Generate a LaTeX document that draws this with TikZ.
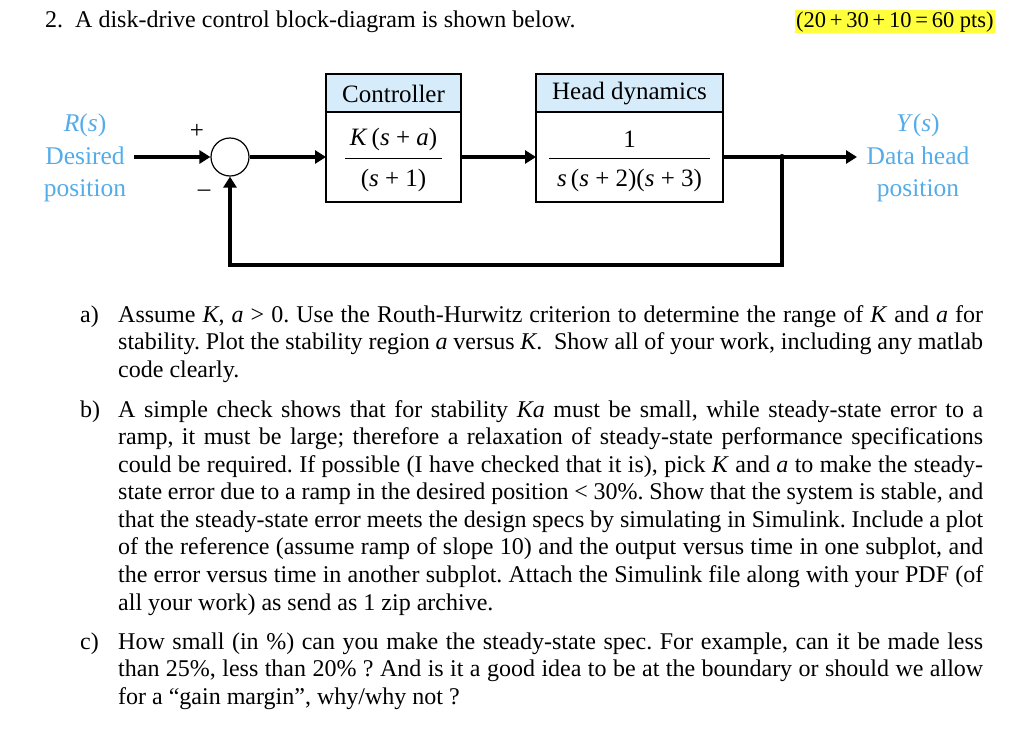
\documentclass[tikz,border=0pt]{standalone}
\usepackage{fontspec}
\setmainfont{Liberation Serif}
\usetikzlibrary{arrows.meta}
\definecolor{lblue}{RGB}{84,172,232}
\definecolor{hdr}{RGB}{214,236,250}
\definecolor{hl}{RGB}{255,255,60}
\frenchspacing
\begin{document}
\begin{tikzpicture}[x=1pt,y=-1pt,
  body/.style={font=\fontsize{24}{27.5}\selectfont,anchor=base west,inner sep=0},
  lab/.style={font=\fontsize{25.5}{32.5}\selectfont,text=lblue,align=center,inner sep=0},
  dtext/.style={font=\fontsize{25}{28}\selectfont,inner sep=0},
  conn/.style={line width=4pt},
  arr/.style={conn,-{Triangle[length=11pt,width=13pt]}},
  box/.style={draw,line width=2.6pt}]
\useasboundingbox (0,0) rectangle (1024,747);
% header
\node[body] (title) at (45,27) {2.\enspace A disk-drive control block-diagram is shown below.};
\node[body,fill=hl,inner sep=1pt,font=\fontsize{22.5}{27}\selectfont] (pts) at (795,27) {(20\,+\,30\,+\,10\,=\,60 pts)};
% blocks
\draw[box,fill=hdr] (326,74) rectangle (461,112);
\draw[box,fill=white] (326,112) rectangle (461,202);
\node[dtext] (ctl) at (393.5,94) {Controller};
\node[dtext] (cn) at (393.5,139) {\textit{K}\,(\textit{s}\ +\ \textit{a})};
\node[dtext] (cd) at (393.5,180) {(\textit{s}\ +\ 1)};
\draw[line width=0.8pt] (345,158) -- (442,158);
\draw[box,fill=hdr] (536,74) rectangle (723,112);
\draw[box,fill=white] (536,112) rectangle (723,202);
\node[dtext] (hd) at (629.5,94) {Head dynamics};
\node[dtext] (hn) at (629.5,139) {1};
\node[dtext] (hdn) at (629.5,180) {\textit{s}\,(\textit{s}\ +\ 2)(\textit{s}\ +\ 3)};
\draw[line width=0.8pt] (549,158) -- (710,158);
\coordinate (cl) at (326,157);
\coordinate (cr) at (461,157);
\coordinate (hl) at (536,157);
\coordinate (hr) at (723,157);
% summing junction
\node[draw,circle,line width=1.2pt,minimum size=38pt,inner sep=0] (sum) at (230,157) {};
\node[dtext] (plus) at (197,131) {+};
\node[dtext] (minus) at (204,193) {\textendash};
% labels
\node[lab] (R) at (85,158) {\textit{R}(\textit{s})\\Desired\\position};
\node[lab] (Y) at (918,158) {\textit{Y}(\textit{s})\\Data head\\position};
\coordinate (in) at (134,157);
\coordinate (br) at (782,157);
\coordinate (out) at (857,157);
\coordinate (fb1) at (782,265);
\coordinate (fb2) at (230,265);
\draw[arr] (in) -- (sum.west);
\draw[arr] (sum.east) -- (cl);
\draw[arr] (cr) -- (hl);
\draw[conn] (hr) -- (br);
\draw[arr] (br) -- (out);
\draw[arr] (br) -- (fb1) -- (fb2) -- (sum.south);
\fill (br) circle (3pt);
% questions
\node[body] (a) at (80,322) {a)};
\node[body] (a1) at (118,322) {\makebox[865pt][s]{Assume \textit{K}, \textit{a} > 0. Use the Routh-Hurwitz criterion to determine the range of \textit{K} and \textit{a} for}};
\node[body] (a2) at (118,349) {\makebox[865pt][s]{stability. Plot the stability region \textit{a} versus \textit{K}.\ \ Show all of your work, including any matlab}};
\node[body] (a3) at (118,377) {code clearly.};
\node[body] (b) at (80,417) {b)};
\node[body] (b1) at (118,417) {\makebox[865pt][s]{A simple check shows that for stability \textit{Ka} must be small, while steady-state error to a}};
\node[body] (b2) at (118,444) {\makebox[865pt][s]{ramp, it must be large; therefore a relaxation of steady-state performance specifications}};
\node[body] (b3) at (118,472) {\makebox[865pt][s]{could be required. If possible (I have checked that it is), pick \textit{K} and \textit{a} to make the steady-}};
\node[body] (b4) at (118,499) {\makebox[865pt][s]{state error due to a ramp in the desired position < 30\%. Show that the system is stable, and}};
\node[body] (b5) at (118,527) {\makebox[865pt][s]{that the steady-state error meets the design specs by simulating in Simulink. Include a plot}};
\node[body] (b6) at (118,554) {\makebox[865pt][s]{of the reference (assume ramp of slope 10) and the output versus time in one subplot, and}};
\node[body] (b7) at (118,582) {\makebox[865pt][s]{the error versus time in another subplot. Attach the Simulink file along with your PDF (of}};
\node[body] (b8) at (118,610) {all your work) as send as 1 zip archive.};
\node[body] (c) at (80,649) {c)};
\node[body] (c1) at (118,649) {\makebox[865pt][s]{How small (in \%) can you make the steady-state spec. For example, can it be made less}};
\node[body] (c2) at (118,676) {\makebox[865pt][s]{than 25\%, less than 20\% ? And is it a good idea to be at the boundary or should we allow}};
\node[body] (c3) at (118,704) {for a “gain margin”, why/why not ?};
\end{tikzpicture}
\end{document}
